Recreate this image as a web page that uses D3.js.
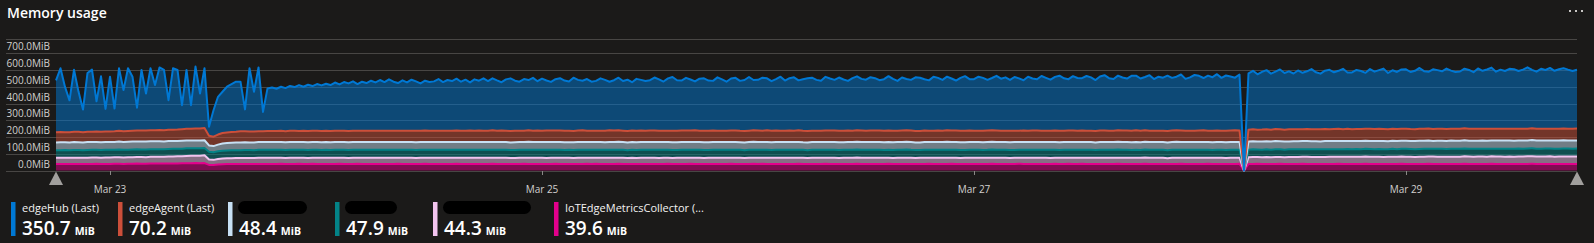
<!DOCTYPE html>
<html>
<head>
<meta charset="utf-8">
<script src="https://cdn.jsdelivr.net/npm/d3@7"></script>
<style>
  html, body { margin: 0; padding: 0; background: #1b1a19; }
  svg { display: block; font-family: "Segoe UI", "Open Sans", sans-serif; }
</style>
</head>
<body>
<div id="canvas"></div>
<script>
// samples every 30 min, starting Mar 22 18:00
const startTime = "2023-03-22T18:00:00Z";
const stepMinutes = 30;

const yTicks = [0, 100, 200, 300, 400, 500, 600, 700];
const xTicks = ["2023-03-23", "2023-03-25", "2023-03-27", "2023-03-29"];

// one row = 6 hours
const edgeHub = [
  310,380,270,190,370,240,135,350,370,180,330,135,
  327,136,373,246,374,322,136,361,221,369,269,373,
  359,177,366,355,143,351,140,369,209,356,54,158,
  225,246,273,285,299,296,131,377,237,381,115,254,
  259,252,263,257,268,261,274,263,276,267,278,272,
  281,274,287,276,290,284,295,279,293,284,298,289,
  303,290,306,292,284,300,288,304,295,282,297,290,
  294,308,290,302,296,309,292,304,287,306,297,312,
  296,310,300,288,306,314,298,292,308,300,316,294,
  310,298,290,306,312,300,294,318,302,296,308,292,
  298,312,304,290,300,314,296,306,288,310,302,296,
  300,316,306,294,312,320,302,298,314,304,292,310,
  312,300,296,318,306,292,310,314,298,304,320,300,
  302,316,310,296,306,322,300,312,318,298,308,314,
  316,304,298,320,310,302,318,306,296,314,322,308,
  304,318,312,300,308,324,310,298,316,306,302,320,
  318,306,300,322,314,304,320,310,298,316,326,306,
  308,322,316,302,312,326,310,318,304,320,312,300,
  322,310,306,326,316,304,320,328,312,306,324,314,
  312,326,318,304,322,330,314,308,326,316,310,328,
  326,312,318,332,308,322,316,330,314,320,334,310,
  318,332,326,312,328,320,336,316,330,322,314,334,
  0,336,348,330,344,352,334,342,356,338,346,332,
  350,336,344,358,340,332,348,354,338,346,360,336,
  338,352,346,334,356,342,350,360,336,348,340,354,
  354,340,348,362,344,338,356,350,342,360,346,338,
  342,356,350,338,360,346,354,364,340,352,344,358,
  356,344,352,366,348,340,358,350,362,346,354,360,
  352,344,350.7
];

const edgeAgent = [
  60,61,60,61,61,62,61,62,62,62,63,62,
  63,63,64,64,64,65,65,65,66,66,66,67,
  67,67,68,68,69,70,70,71,72,73,58,56,
  60,62,63,64,64,66,65,65,65,64,65,66,
  66,66,67,66,66,67,66,67,67,66,67,67,
  67,67,67,67,68,67,67,67,67,67,68,67,
  67,68,68,67,68,68,68,68,68,68,68,68,
  68,68,68,68,68,68,68,68,68,68,69,68,
  68,69,68,68,67,68,69,68,68,68,67,68,
  68,68,69,68,68,68,68,67,68,69,68,68,
  67,68,68,69,68,68,68,68,69,68,68,67,
  68,68,68,67,68,69,68,68,68,68,69,68,
  69,68,68,68,68,67,68,69,68,68,68,68,
  68,68,69,68,68,68,67,68,68,69,68,68,
  68,67,68,68,69,68,68,68,68,67,68,69,
  68,68,68,69,68,68,68,67,68,68,69,68,
  68,69,68,68,68,67,68,68,69,68,68,68,
  67,68,68,68,68,69,68,68,68,68,67,68,
  68,68,69,68,67,68,68,69,68,68,68,68,
  68,68,68,68,69,68,67,68,68,69,68,68,
  69,68,68,67,68,68,68,68,69,68,68,67,
  68,68,68,69,68,68,68,67,68,68,69,68,
  0,71,72,71,72,72,71,72,72,71,72,72,
  72,71,72,72,71,72,72,71,72,72,71,72,
  71,72,72,71,72,71,72,72,71,72,72,71,
  72,71,71,72,71,72,71,71,72,71,71,72,
  71,71,72,71,71,70,71,71,70,71,71,70,
  71,70,71,70,71,71,70,71,70,70,71,70,
  70,71,70.2
];

// module names are blacked out in the source
const hiddenModuleA = [
  46,47,46,46,47,46,46,47,46,46,46,47,
  46,47,47,46,47,47,47,48,47,47,48,47,
  47,47,46,47,47,46,47,46,46,46,38,36,
  40,43,44,45,45,46,46,45,46,46,46,46,
  46,46,46,46,47,46,46,46,46,46,47,46,
  46,46,47,46,46,46,46,46,46,47,46,46,
  46,46,46,47,46,46,46,46,46,46,46,46,
  46,46,46,46,46,46,46,46,47,46,46,46,
  46,46,46,47,46,45,46,46,46,47,46,46,
  46,47,46,46,46,46,45,46,47,46,46,46,
  46,46,45,46,46,47,46,46,46,46,47,46,
  47,46,46,46,45,46,46,47,46,46,46,46,
  46,46,47,46,46,46,46,46,45,46,46,47,
  46,45,46,46,47,46,46,46,46,46,45,46,
  46,46,46,46,46,47,46,45,46,46,46,46,
  46,46,47,46,46,46,46,46,47,46,46,45,
  45,46,46,46,46,46,47,46,46,46,46,46,
  46,46,46,47,46,46,45,46,46,47,46,46,
  46,47,46,46,46,46,46,46,45,46,47,46,
  46,46,46,45,46,47,46,46,46,46,46,46,
  47,46,46,46,46,46,45,46,46,47,46,46,
  46,46,46,47,46,46,46,46,46,46,47,46,
  0,48,48,47,48,48,48,49,48,48,47,48,
  48,48,49,48,48,47,48,48,48,49,48,48,
  48,47,48,48,48,49,48,48,47,48,48,48,
  48,48,48,49,48,48,47,48,48,48,49,48,
  48,49,48,48,47,48,48,48,49,48,48,48,
  48,48,48,48,49,48,48,47,48,48,48,49,
  48,48,48.4
];

const hiddenModuleB = [
  46,46,47,46,46,47,46,46,46,47,46,46,
  46,45,46,46,45,46,46,45,46,46,45,46,
  45,45,46,45,45,46,45,45,44,44,46,46,
  46,47,47,47,47,47,48,48,47,48,48,48,
  48,48,47,48,48,48,47,48,48,48,48,47,
  48,47,48,48,48,48,48,47,48,48,48,48,
  48,48,48,48,47,48,48,48,48,48,48,48,
  48,48,48,48,48,48,48,48,48,48,48,48,
  48,48,47,48,49,48,48,48,47,48,48,49,
  48,49,48,48,48,47,48,48,48,49,48,48,
  47,48,48,48,49,48,48,47,48,48,48,48,
  48,48,49,48,48,48,47,48,48,48,49,48,
  48,47,48,48,48,49,48,48,48,47,48,48,
  49,48,48,47,48,48,48,49,48,48,48,47,
  48,48,48,49,48,47,48,48,49,48,48,48,
  48,49,48,48,47,48,48,48,48,49,48,48,
  47,48,48,48,48,48,49,48,48,48,47,48,
  48,48,47,48,49,48,48,48,48,47,48,49,
  48,48,48,48,48,49,48,47,48,48,48,48,
  49,48,48,47,48,48,48,48,49,48,48,47,
  48,47,48,48,48,48,49,48,48,48,48,48,
  48,48,49,48,48,47,48,48,48,49,48,48,
  0,45,46,45,45,46,45,46,46,45,46,46,
  46,46,45,46,46,46,47,46,46,46,46,47,
  46,47,46,46,47,46,46,47,46,47,46,46,
  47,46,47,46,47,47,46,47,47,46,47,47,
  47,47,46,47,47,47,47,46,47,47,48,47,
  47,48,47,47,48,47,47,48,47,48,47,48,
  48,47,47.9
];

const hiddenModuleC = [
  37,37,36,37,37,36,37,37,38,37,37,38,
  38,38,39,38,39,39,39,40,39,40,40,40,
  40,41,41,42,42,43,44,44,45,46,32,31,
  33,34,34,35,35,35,35,35,35,36,36,36,
  36,36,36,35,36,36,36,36,35,36,36,36,
  36,36,36,36,36,35,36,36,36,36,36,36,
  36,36,36,36,36,36,36,36,35,36,36,36,
  36,36,36,36,36,36,36,36,36,36,36,36,
  36,36,37,36,36,36,35,36,36,37,36,36,
  36,35,36,36,37,36,36,36,36,36,35,36,
  36,36,36,37,36,36,36,35,36,36,36,37,
  36,37,36,36,36,35,36,36,37,36,36,36,
  35,36,36,36,37,36,36,36,36,35,36,36,
  36,36,37,36,36,36,36,37,36,36,36,35,
  36,36,36,35,36,37,36,36,36,36,37,36,
  37,36,36,36,36,36,35,36,36,37,36,36,
  36,36,35,36,37,36,36,36,36,36,36,37,
  36,37,36,36,36,36,37,36,35,36,36,36,
  36,36,36,37,36,35,36,36,37,36,36,36,
  35,36,36,36,36,37,36,36,36,36,37,36,
  36,36,37,36,36,36,36,35,36,37,36,36,
  36,36,36,36,35,36,37,36,36,36,36,36,
  0,40,41,40,40,41,40,41,40,40,41,41,
  41,41,42,41,41,42,41,42,42,41,42,42,
  42,42,42,43,42,42,43,42,42,43,42,43,
  43,43,42,43,43,43,44,43,43,43,44,43,
  43,44,44,43,44,44,43,44,44,44,43,44,
  44,44,44,45,44,44,44,44,45,44,44,44,
  44,44,44.3
];

const metricsCollector = [
  39,39,40,39,40,40,39,40,40,41,40,40,
  40,41,41,40,41,41,42,41,41,42,42,42,
  42,43,43,43,44,44,44,45,44,45,34,33,
  36,38,39,39,40,40,40,40,40,40,40,40,
  40,40,41,40,40,40,41,40,40,41,40,40,
  40,40,40,41,40,40,40,41,40,40,40,40,
  40,40,40,40,41,40,40,40,40,40,41,40,
  40,40,40,40,40,41,40,40,40,40,40,40,
  40,41,40,40,40,39,40,40,41,40,40,40,
  40,40,40,41,40,40,40,39,40,40,41,40,
  41,40,40,40,40,41,40,40,40,39,40,40,
  40,40,39,40,41,40,40,40,40,41,40,40,
  40,40,40,40,39,40,41,40,40,40,40,41,
  40,41,40,40,40,40,40,39,40,41,40,40,
  40,40,40,41,40,40,39,40,40,40,41,40,
  39,40,40,40,40,41,40,40,40,40,40,39,
  40,40,41,40,40,40,40,41,40,39,40,40,
  40,39,40,40,41,40,40,40,40,40,41,40,
  40,40,40,39,40,40,41,40,40,41,40,40,
  41,40,40,40,40,39,40,40,41,40,40,40,
  40,40,41,40,40,40,40,39,40,40,41,40,
  40,40,40,40,41,40,40,40,39,40,40,41,
  0,40,40,41,40,40,40,40,41,40,40,40,
  40,41,40,40,40,39,40,40,40,41,40,40,
  40,40,40,41,40,40,40,39,40,40,40,41,
  40,40,39,40,40,41,40,40,40,40,39,40,
  40,41,40,40,40,40,40,41,40,40,40,40,
  39,40,40,40,41,40,40,40,40,39,40,40,
  40,40,39.6
];

// legend order (top of stack first)
const legendLabels = ["edgeHub (Last)", "edgeAgent (Last)", null, null, null, "IoTEdgeMetricsCollector (..."];
const legendSeries = [edgeHub, edgeAgent, hiddenModuleA, hiddenModuleB, hiddenModuleC, metricsCollector];
const colors = ["#0078d4", "#cc4f3a", "#c7e0f4", "#038387", "#f2c4ef", "#e3008c"];

const legendX = [11, 118, 228, 335, 433, 554];
const redactWidth = [0, 0, 69, 52, 88, 0];

const width = 1594;
const height = 243;

const svg = d3.select("#canvas").append("svg").attr("width", width).attr("height", height);

// stack bottom -> top
const keys = ["s5", "s4", "s3", "s2", "s1", "s0"];
const t0 = new Date(startTime).getTime();
const rows = edgeHub.map((v, i) => {
  const r = { time: new Date(t0 + i * stepMinutes * 60000) };
  legendSeries.forEach((s, k) => (r["s" + k] = s[i]));
  return r;
});

const stacked = d3.stack().keys(keys)(rows);

const x = d3
  .scaleUtc()
  .domain([rows[0].time, rows[rows.length - 1].time])
  .range([56, 1577]);

const y = d3.scaleLinear().domain([0, 700]).range([170.6, 53.2]);

// title + menu dots
svg.append("text")
  .attr("x", 7)
  .attr("y", 17.5)
  .style("font-size", "14px")
  .style("font-weight", 600)
  .attr("fill", "#ffffff")
  .text("Memory usage");

[0, 1, 2].forEach((i) => {
  svg.append("rect").attr("x", 1569 + i * 6).attr("y", 10).attr("width", 2).attr("height", 2).attr("fill", "#c8c6c4");
});

// grid
svg.append("line").attr("x1", 6).attr("x2", 1577).attr("y1", 39.5).attr("y2", 39.5)
  .attr("stroke", "#484644");

const grid = svg.append("g");
grid.selectAll("line").data(yTicks).enter().append("line")
  .attr("x1", 6).attr("x2", 1577)
  .attr("y1", (d) => Math.round(y(d)) + 0.5)
  .attr("y2", (d) => Math.round(y(d)) + 0.5)
  .attr("stroke", "#484644");

grid.selectAll("text").data(yTicks).enter().append("text")
  .attr("x", 50)
  .attr("y", (d) => y(d) - 3)
  .attr("text-anchor", "end")
  .style("font-size", "10px")
  .attr("fill", "#d2d0ce")
  .text((d) => d3.format(".1f")(d) + "MiB");

// stacked areas
const area = d3.area()
  .x((d) => x(d.data.time))
  .y0((d) => y(d[0]))
  .y1((d) => y(d[1]));

const line = d3.line()
  .x((d) => x(d.data.time))
  .y((d) => y(d[1]));

const colorOf = (key) => colors[+key.slice(1)];

svg.append("g").selectAll("path").data(stacked).enter().append("path")
  .attr("d", area)
  .attr("fill", (d) => colorOf(d.key))
  .attr("fill-opacity", 0.5);

svg.append("g").selectAll("path").data(stacked).enter().append("path")
  .attr("d", line)
  .attr("fill", "none")
  .attr("stroke", (d) => colorOf(d.key))
  .attr("stroke-width", 2)
  .attr("stroke-linejoin", "round");

// x axis
const xAxis = svg.append("g");
const xt = xTicks.map((d) => new Date(d + "T00:00:00Z"));
xAxis.selectAll("line").data(xt).enter().append("line")
  .attr("x1", (d) => Math.round(x(d)) + 0.5)
  .attr("x2", (d) => Math.round(x(d)) + 0.5)
  .attr("y1", 171)
  .attr("y2", 175)
  .attr("stroke", "#8a8886");

xAxis.selectAll("text").data(xt).enter().append("text")
  .attr("x", (d) => x(d))
  .attr("y", 193)
  .attr("text-anchor", "middle")
  .style("font-size", "10px")
  .attr("fill", "#d2d0ce")
  .text(d3.utcFormat("%b %d"));

// range handles
x.range().forEach((px) => {
  svg.append("path")
    .attr("d", `M${px},171.5L${px + 7},185L${px - 7},185Z`)
    .attr("fill", "#a19f9d");
});

// legend
const legend = svg.append("g");
legendSeries.forEach((s, i) => {
  const lx = legendX[i];
  const g = legend.append("g").attr("transform", `translate(${lx}, 0)`);
  g.append("rect").attr("x", 0).attr("y", 202).attr("width", 4.5).attr("height", 34).attr("fill", colors[i]);
  if (legendLabels[i]) {
    g.append("text")
      .attr("x", 11)
      .attr("y", 212)
      .style("font-size", "11px")
      .attr("fill", "#f3f2f1")
      .text(legendLabels[i]);
  } else {
    g.append("rect")
      .attr("x", 10).attr("y", 201)
      .attr("width", redactWidth[i]).attr("height", 13)
      .attr("rx", 6.5)
      .attr("fill", "#000000");
  }
  const val = g.append("text")
    .attr("x", 11)
    .attr("y", 235)
    .attr("fill", "#ffffff");
  val.append("tspan")
    .style("font-size", "19px")
    .style("font-weight", 600)
    .text(d3.format(".1f")(s[s.length - 1]));
  val.append("tspan")
    .attr("dx", 4)
    .style("font-size", "10.5px")
    .style("font-weight", 700)
    .text("MiB");
});
</script>
</body>
</html>
